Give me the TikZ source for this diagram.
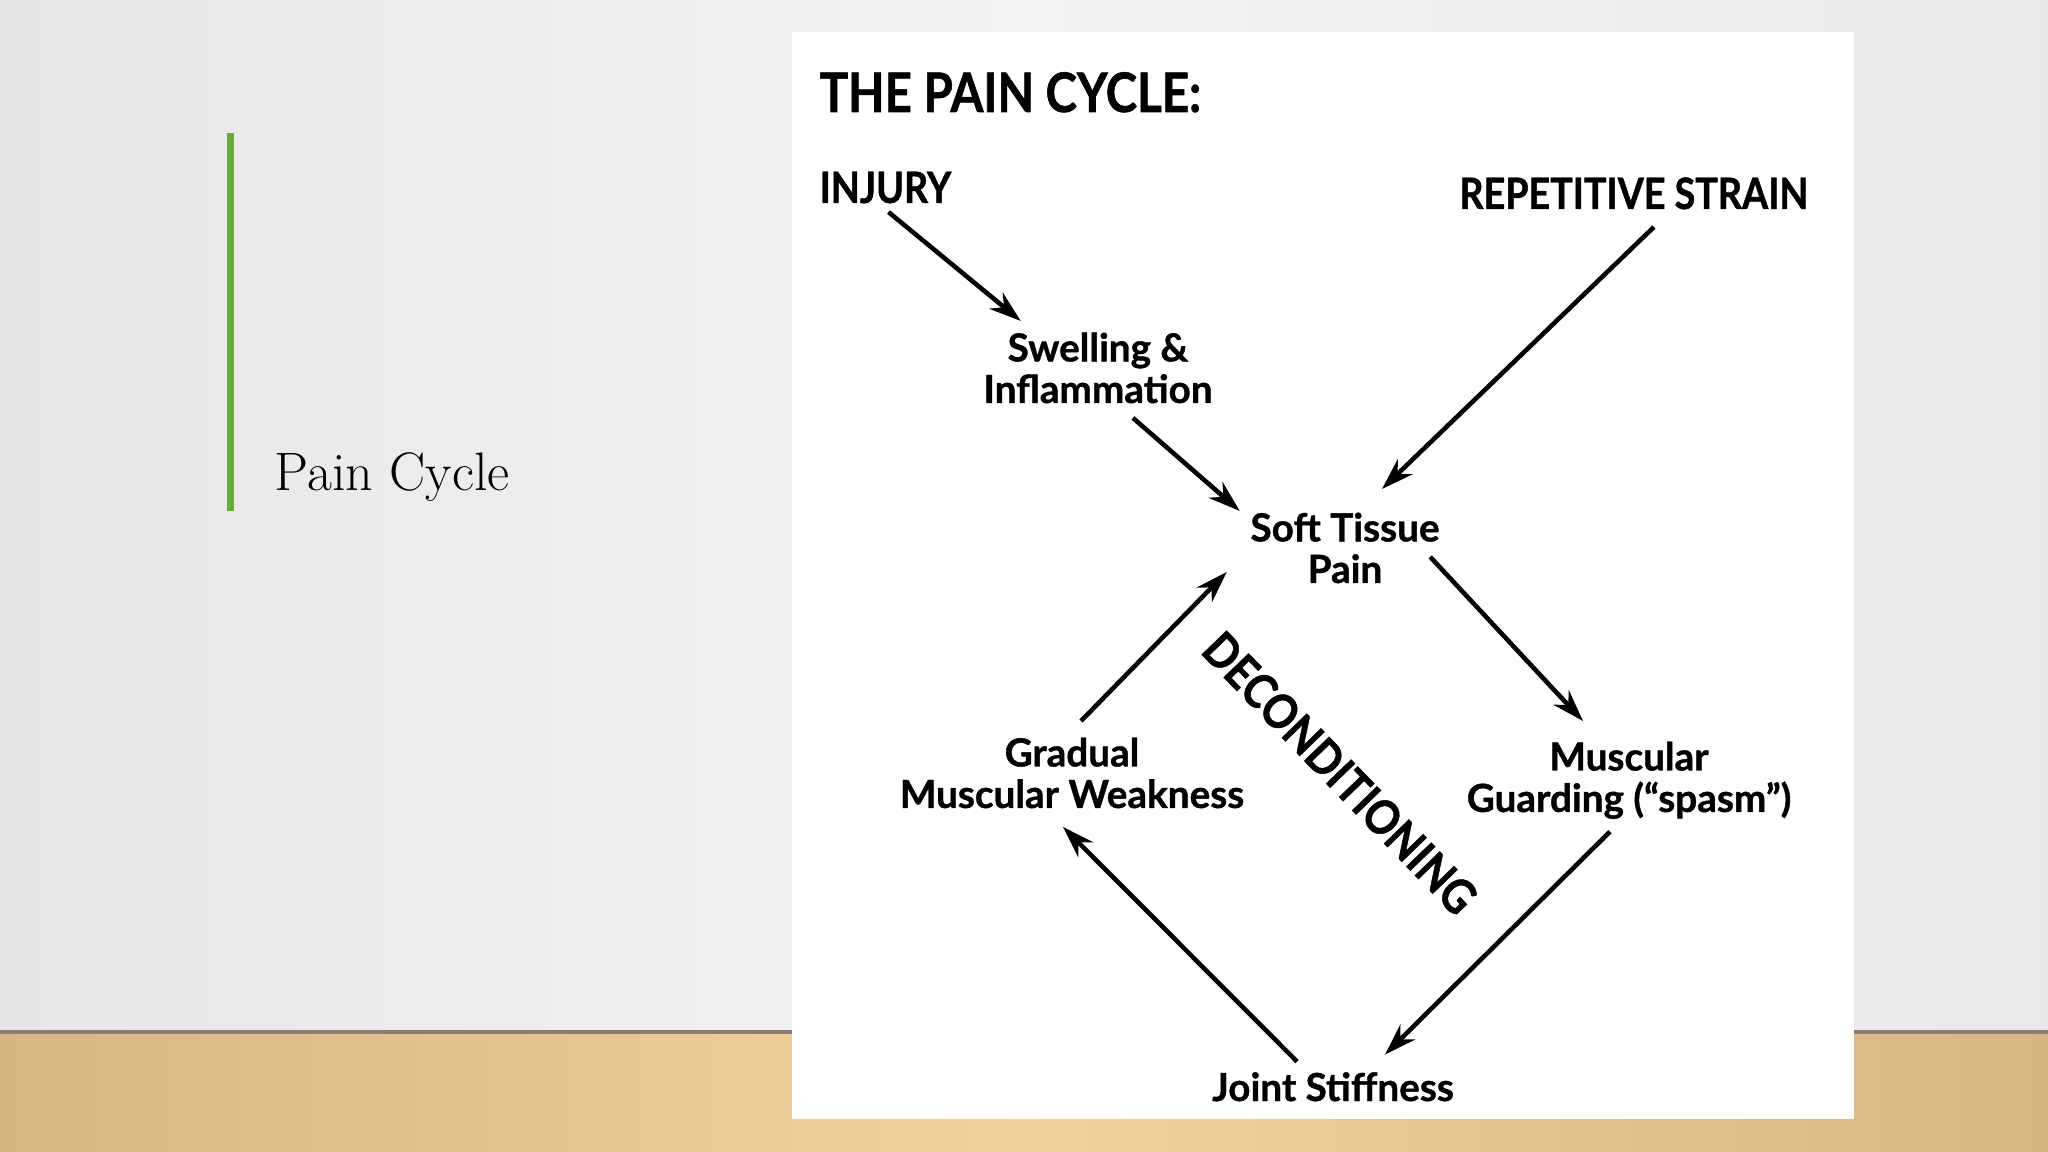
\documentclass[tikz,border=0pt]{standalone}
\usepackage{fontspec}
\usepackage{tikz}
\usetikzlibrary{arrows.meta, positioning}
\newfontfamily\capsfont[FakeStretch=0.87, BoldFeatures={FakeBold=1}]{Lato}
\newfontfamily\labelfont[FakeStretch=1.0, BoldFeatures={FakeBold=1}]{Lato}
\definecolor{wallgray}{RGB}{232, 230, 230}
\definecolor{walllight}{RGB}{244, 244, 244}
\definecolor{woodtan}{RGB}{216, 182, 132}
\definecolor{woodlight}{RGB}{242, 210, 156}
\definecolor{floorline}{RGB}{90, 70, 50}
\definecolor{accentgreen}{RGB}{104, 170, 60}

\begin{document}
\begin{tikzpicture}[
    x=0.01cm, y=-0.01cm,
    label/.style={font=\labelfont\bfseries\fontsize{11}{11.8}\selectfont, inner sep=0pt, align=center},
    caps/.style={font=\capsfont\bfseries\fontsize{12.3}{14}\selectfont, inner sep=0pt},
    arrow/.style={-{Stealth[length=3.2mm, width=2.1mm]}, line width=1.3pt}
]
\useasboundingbox (0,0) rectangle (2048,1152);
\shade[left color=wallgray, right color=wallgray!80!walllight, middle color=walllight] (0,0) rectangle (2048,1032);
\shade[left color=woodtan, right color=woodtan, middle color=woodlight] (0,1032) rectangle (2048,1152);
\draw[line width=1.2pt, floorline!70] (0,1032) -- (2048,1032);
\fill[accentgreen] (227,133) rectangle (234,511);
\node[anchor=base west, inner sep=0pt, font=\fontsize{15.4}{18}\selectfont] (slidetitle) at (274,491) {Pain Cycle};

\fill[white] (792,32) rectangle (1854,1119);

\node[caps, anchor=base west, font=\capsfont\bfseries\fontsize{15.5}{18}\selectfont] (cycletitle) at (819,112) {THE PAIN CYCLE:};
\node[caps, anchor=base west] (injury) at (819,203) {INJURY};
\node[caps, anchor=base east] (strain) at (1809,209) {REPETITIVE STRAIN};
\node[label, anchor=north] (swell) at (1098,332) {Swelling \&\\Inflammation};
\node[label, anchor=north] (stp) at (1345,512) {Soft Tissue\\Pain};
\node[label, anchor=north] (gmw) at (1072,737) {Gradual\\Muscular Weakness};
\node[label, anchor=north] (mg) at (1629,741) {Muscular\\Guarding (“spasm”)};
\node[label, anchor=base] (js) at (1333,1101) {Joint Stiffness};
\node[caps, rotate=-46, font=\capsfont\bfseries\fontsize{13.6}{15}\selectfont] (decond) at (1340,773) {DECONDITIONING};

\draw[arrow] ([shift={(3,8)}]injury.south) -- ([shift={(38,-11)}]swell.north west);
\draw[arrow] ([shift={(20,17)}]strain.south) -- ([shift={(37,-23)}]stp.north);
\draw[arrow] ([shift={(35,14)}]swell.south) -- ([shift={(-10,-1)}]stp.north west);
\draw[arrow] ([shift={(-10,-27)}]stp.south east) -- ([shift={(-46,-20)}]mg.north);
\draw[arrow] ([shift={(-19,12)}]mg.south) -- ([shift={(52,-17)}]js.north);
\draw[arrow] ([shift={(-36,-10)}]js.north) -- ([shift={(-9,18)}]gmw.south);
\draw[arrow] ([shift={(9,-16)}]gmw.north) -- ([shift={(-23,24)}]stp.west);

\end{tikzpicture}
\end{document}
